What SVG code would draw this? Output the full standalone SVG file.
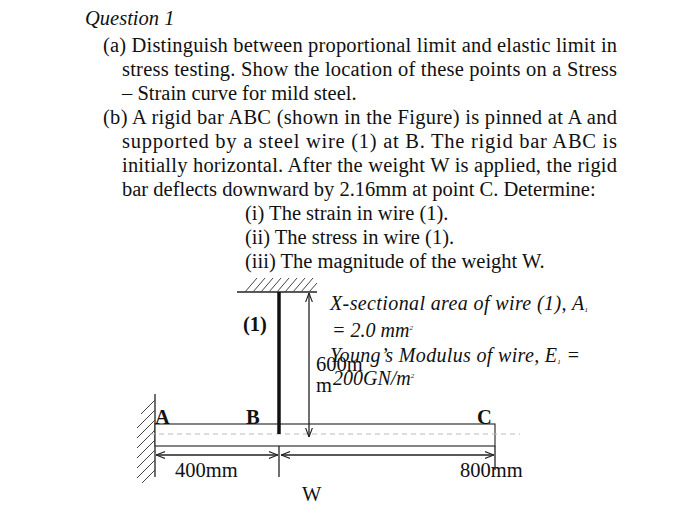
<svg xmlns="http://www.w3.org/2000/svg" width="700" height="528" viewBox="0 0 700 528">
<style>
text{font-family:"Liberation Serif","Times New Roman",serif;font-size:20.5px;fill:#111}
.i{font-style:italic}
.s{font-size:20px}
.ln{stroke:#222;stroke-width:1.3;fill:none}
.h{stroke:#444;stroke-width:1}
</style>
<defs>
<marker id="ar" viewBox="0 0 8 8" refX="8" refY="4" markerWidth="7" markerHeight="7" orient="auto-start-reverse"><path d="M0,1 L8,4 L0,7" fill="none" stroke="#222" stroke-width="1"/></marker>
</defs>
<rect width="700" height="528" fill="#fff"/>
<g id="question">
<text x="85" y="25" class="i">Question 1</text>
<text x="103" y="52" textLength="514" lengthAdjust="spacing">(a) Distinguish between proportional limit and elastic limit in</text>
<text x="122" y="76" textLength="495" lengthAdjust="spacing">stress testing. Show the location of these points on a Stress</text>
<text x="122" y="100">– Strain curve for mild steel.</text>
<text x="103" y="124" textLength="514" lengthAdjust="spacing">(b) A rigid bar ABC (shown in the Figure) is pinned at A and</text>
<text x="122" y="148" textLength="495" lengthAdjust="spacing">supported by a steel wire (1) at B. The rigid bar ABC is</text>
<text x="122" y="172" textLength="495" lengthAdjust="spacing">initially horizontal. After the weight W is applied, the rigid</text>
<text x="122" y="196">bar deflects downward by 2.16mm at point C. Determine:</text>
<text x="245" y="220">(i) The strain in wire (1).</text>
<text x="245" y="244">(ii) The stress in wire (1).</text>
<text x="245" y="268">(iii) The magnitude of the weight W.</text>
</g>
<g id="ceiling">
<line x1="237" y1="292" x2="317" y2="292" class="ln"/>
<path class="h" d="M245,292 l12,-14 M253,292 l12,-14 M261,292 l12,-14 M269,292 l12,-14 M277,292 l12,-14 M285,292 l12,-14 M293,292 l12,-14 M301,292 l12,-14 M309,292 l8,-9"/>
</g>
<g id="wall">
<line x1="155" y1="394" x2="155" y2="477" class="ln"/>
<path class="h" d="M155,400 l-14,14 M155,410 l-18,18 M155,420 l-18,18 M155,430 l-18,18 M155,440 l-18,18 M155,450 l-18,18 M155,460 l-18,18 M155,470 l-13,13"/>
</g>
<g id="bar">
<rect x="155" y="424" width="340" height="22" fill="#fff" stroke="#333" stroke-width="1.2"/>
<line x1="150" y1="434" x2="520" y2="434" stroke="#bbb" stroke-width="1" stroke-dasharray="5,4"/>
<text x="155" y="424" font-weight="bold" font-size="19">A</text>
<text x="246" y="424" font-weight="bold" font-size="19">B</text>
<text x="477" y="424" font-weight="bold" font-size="19">C</text>
</g>
<g id="wire">
<line x1="279" y1="292" x2="279" y2="434" stroke="#111" stroke-width="3.5"/>
<text x="243" y="331" font-weight="bold" font-size="19">(1)</text>
</g>
<g id="connectors">
<line x1="309" y1="293" x2="309" y2="437" class="ln" stroke-width="1" marker-start="url(#ar)" marker-end="url(#ar)"/>
<line x1="156" y1="455" x2="278" y2="455" class="ln" stroke-width="1" marker-start="url(#ar)" marker-end="url(#ar)"/>
<line x1="281" y1="455" x2="494" y2="455" class="ln" stroke-width="1" marker-start="url(#ar)" marker-end="url(#ar)"/>
<line x1="279" y1="446" x2="279" y2="477" class="ln" stroke-width="1"/>
<line x1="495" y1="446" x2="495" y2="470" class="ln" stroke-width="1"/>
</g>
<g id="labels">
<text x="316" y="371">600m</text>
<text x="316" y="392">m</text>
<text x="175" y="477">400mm</text>
<text x="460" y="477">800mm</text>
<text x="302" y="501">W</text>
<text x="330" y="310" class="i s" textLength="258" lengthAdjust="spacing">X-sectional area of wire (1), A<tspan font-size="7" dy="2">1</tspan></text>
<text x="332" y="337" class="i s">= 2.0 mm<tspan font-size="7" dy="-7">2</tspan></text>
<text x="330" y="362" class="i s" textLength="250" lengthAdjust="spacing">Young’s Modulus of wire, E<tspan font-size="7" dy="2">1</tspan><tspan dy="-2"> =</tspan></text>
<text x="333" y="385" class="i s" fill="#333">200GN/m<tspan font-size="7" dy="-7">2</tspan></text>
</g>
</svg>
